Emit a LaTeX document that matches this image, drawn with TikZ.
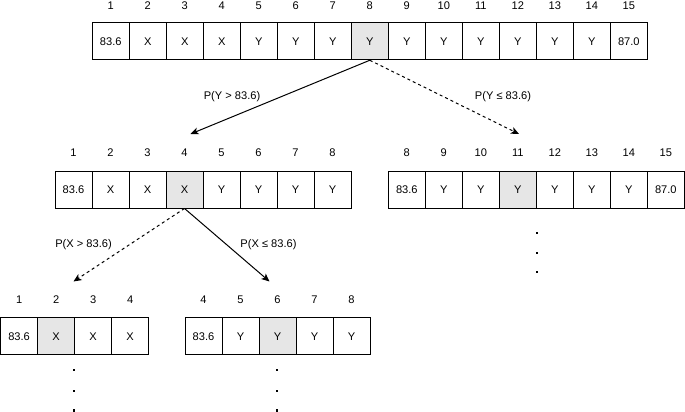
\documentclass[tikz,border=0pt]{standalone}
\usepackage{fontspec}
\setmainfont{Liberation Sans}
\usetikzlibrary{arrows.meta}
\definecolor{hlgray}{HTML}{E6E6E6}
\tikzset{
  cell/.style={draw=black, line width=0.9pt, minimum width=37pt, minimum height=37pt, inner sep=0pt, font=\fontsize{11.1}{13}\selectfont},
  hcell/.style={cell, fill=hlgray},
  num/.style={inner sep=0pt, font=\fontsize{11.1}{13}\selectfont},
  lbl/.style={inner sep=0pt, font=\fontsize{11.1}{13}\selectfont},
  arr/.style={line width=1pt, -{Stealth[length=8pt,width=7pt,inset=2pt]}},
  darr/.style={arr, dash pattern=on 3pt off 3pt},
  dotmark/.style={rectangle, fill=black, inner sep=0pt, minimum size=2.2pt},
}
\begin{document}
\begin{tikzpicture}[x=1pt,y=-1pt]
\useasboundingbox (0,0) rectangle (685,412);
% top row
\foreach \t/\s [count=\i] in {83.6/cell,X/cell,X/cell,X/cell,Y/cell,Y/cell,Y/cell,Y/hcell,Y/cell,Y/cell,Y/cell,Y/cell,Y/cell,Y/cell,87.0/cell} {
  \node[\s] (a\i) at ({92.3+37*(\i-0.5)}, 41.3) {\t};
  \node[num] (an\i) at ({92.3+37*(\i-0.5)}, 5.5) {\i};
}
% middle left row
\foreach \t/\s [count=\i] in {83.6/cell,X/cell,X/cell,X/hcell,Y/cell,Y/cell,Y/cell,Y/cell} {
  \node[\s] (b\i) at ({55+37*(\i-0.5)}, 189.5) {\t};
  \node[num] (bn\i) at ({55+37*(\i-0.5)}, 152.5) {\i};
}
% middle right row
\foreach \t/\s [count=\i, evaluate=\i as \n using int(\i+7)] in {83.6/cell,Y/cell,Y/cell,Y/hcell,Y/cell,Y/cell,Y/cell,87.0/cell} {
  \node[\s] (c\i) at ({388.3+37*(\i-0.5)}, 189.7) {\t};
  \node[num] (cn\i) at ({388.3+37*(\i-0.5)}, 152.5) {\n};
}
% bottom left row
\foreach \t/\s [count=\i] in {83.6/cell,X/hcell,X/cell,X/cell} {
  \node[\s] (d\i) at ({0.6+37*(\i-0.5)}, 336.3) {\t};
  \node[num] (dn\i) at ({0.6+37*(\i-0.5)}, 300) {\i};
}
% bottom right row
\foreach \t/\s [count=\i, evaluate=\i as \n using int(\i+3)] in {83.6/cell,Y/cell,Y/hcell,Y/cell,Y/cell} {
  \node[\s] (e\i) at ({185+37*(\i-0.5)}, 336.3) {\t};
  \node[num] (en\i) at ({185+37*(\i-0.5)}, 300) {\n};
}
% arrows
\coordinate (t1) at (190.5,134);
\coordinate (t2) at (519,134);
\coordinate (t3) at (73.5,281.5);
\coordinate (t4) at (269.5,281.5);
\draw[arr] (a8.south) -- (t1);
\draw[darr] (a8.south) -- (t2);
\draw[darr] (b4.south) -- (t3);
\draw[arr] (b4.south) -- (t4);
\node[lbl] (l1) at (232,96.7) {P(Y > 83.6)};
\node[lbl] (l2) at (503,96.7) {P(Y ≤ 83.6)};
\node[lbl] (l3) at (83.5,245) {P(X > 83.6)};
\node[lbl] (l4) at (268.5,245) {P(X ≤ 83.6)};
% dots
\foreach \y [count=\k] in {233.3,253.3,272.3} \node[dotmark] (cd\k) at (536.7,\y) {};
\foreach \y [count=\k] in {370,391,410.5} \node[dotmark] (dd\k) at (74,\y) {};
\foreach \y [count=\k] in {370,391,410.5} \node[dotmark] (ed\k) at (276.7,\y) {};
\end{tikzpicture}
\end{document}
